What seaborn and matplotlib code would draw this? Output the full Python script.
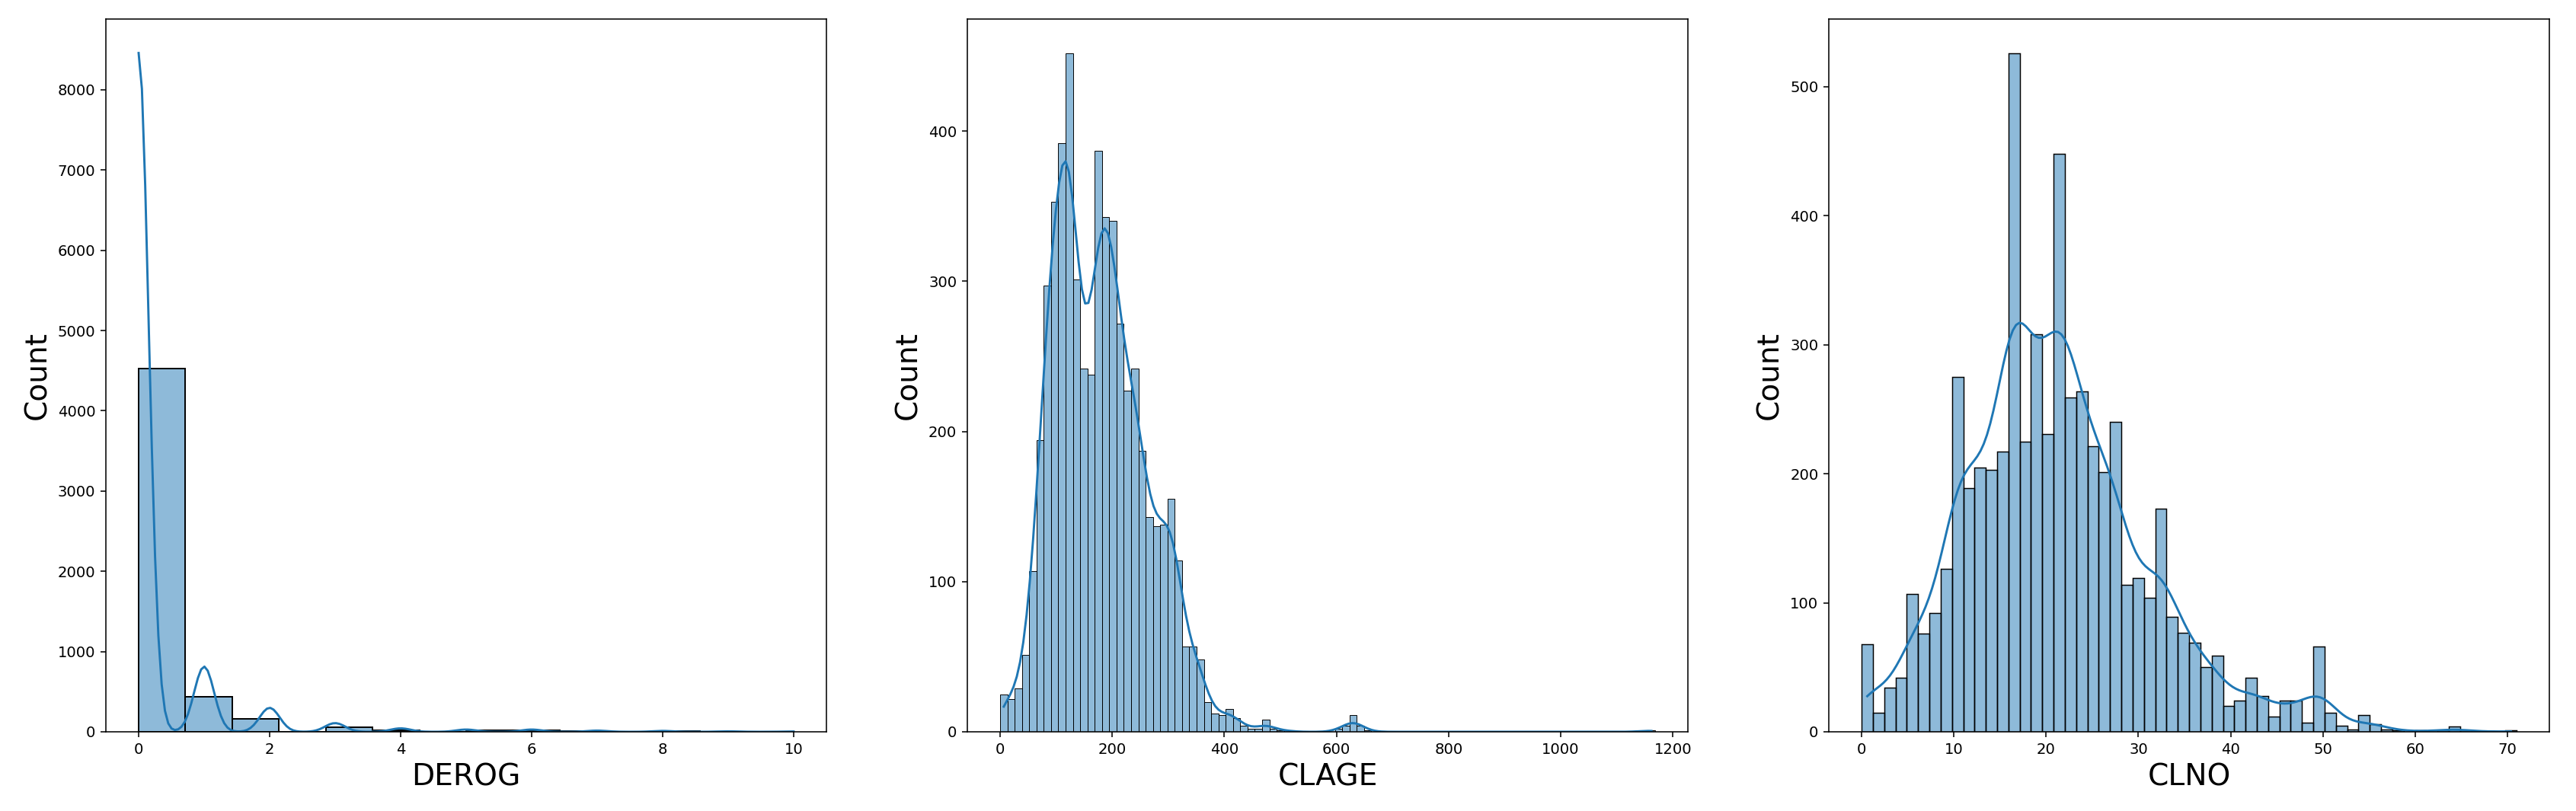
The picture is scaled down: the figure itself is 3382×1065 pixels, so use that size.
import numpy as np
import matplotlib
matplotlib.use("Agg")
import matplotlib.pyplot as plt
import seaborn as sns

# ── DATA ──────────────────────────────────────────────────────
# DEROG: integer values and how many records have each
derog_values = [0, 1, 2, 3, 4, 5, 6, 7, 8, 9, 10]
derog_counts = [4527, 435, 160, 58, 23, 15, 15, 8, 6, 3, 2]
derog_bins = 14

# CLAGE: counts per histogram bin (90 equal bins over the range)
clage_range = (0, 1168.23)
clage_counts = [25, 22, 29, 51, 107, 194, 297, 353, 392, 452,
                301, 242, 238, 387, 343, 340, 272, 227, 242, 187,
                143, 137, 138, 155, 114, 57, 57, 48, 20, 12,
                11, 15, 9, 4, 2, 2, 8, 2, 1, 1,
                0, 0, 0, 0, 0, 0, 2, 4, 11, 4,
                1, 0, 0, 0, 0, 0, 0, 0, 0, 0,
                0, 0, 0, 0, 0, 0, 0, 0, 0, 0,
                0, 0, 0, 0, 0, 0, 0, 0, 0, 0,
                0, 0, 0, 0, 0, 0, 0, 0, 1, 1]

# CLNO: counts per histogram bin (58 equal bins over the range)
clno_range = (0, 71)
clno_counts = [68, 15, 34, 42, 107, 76, 92, 126, 275, 189,
               205, 203, 217, 526, 225, 308, 231, 448, 259, 264,
               221, 201, 240, 114, 119, 104, 173, 89, 77, 69,
               50, 59, 20, 24, 42, 28, 12, 24, 24, 7,
               66, 15, 5, 2, 13, 6, 2, 1, 0, 1,
               0, 1, 4, 1, 0, 0, 0, 1]


def from_bins(counts, rng):
    # one observation per count, placed at its bin centre
    edges = np.linspace(rng[0], rng[1], len(counts) + 1)
    centres = (edges[:-1] + edges[1:]) / 2
    return np.repeat(centres, counts)


derog = np.repeat(derog_values, derog_counts)
clage = from_bins(clage_counts, clage_range)
clno = from_bins(clno_counts, clno_range)

# ── PLOT ──────────────────────────────────────────────────────
W, H, DPI = 3382, 1065, 141
fig, axes = plt.subplots(1, 3, figsize=(W / DPI, H / DPI), dpi=DPI)
fig.subplots_adjust(left=139 / W, right=3347 / W,
                    bottom=1 - 961 / H, top=1 - 25 / H, wspace=185 / 945)

sns.histplot(x=derog, bins=derog_bins, binrange=(0, 10), kde=True, ax=axes[0])
sns.histplot(x=clage, bins=len(clage_counts), binrange=clage_range, kde=True, ax=axes[1])
sns.histplot(x=clno, bins=len(clno_counts), binrange=clno_range, kde=True, ax=axes[2])

for ax, name in zip(axes, ["DEROG", "CLAGE", "CLNO"]):
    ax.set_xlabel(name, fontsize=20)
    ax.set_ylabel("Count", fontsize=20)

plt.savefig("out.png", dpi=DPI)
